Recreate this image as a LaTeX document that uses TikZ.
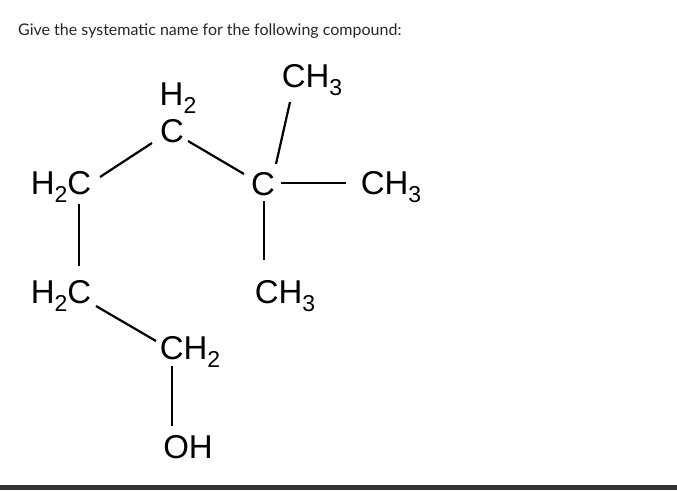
\documentclass[tikz,border=0pt]{standalone}
\usepackage{fontspec}
\setmainfont{Liberation Sans}
\newfontfamily\titlefont{Lato}
\newcommand{\chsub}[1]{\raisebox{-0.25em}{\fontsize{23}{23}\selectfont #1}}
\begin{document}
\begin{tikzpicture}[x=1pt,y=-1pt,
  lab/.style={inner sep=0pt,font=\fontsize{33}{33}\selectfont},
  bond/.style={line width=2.2pt,black}]
\useasboundingbox (0,0) rectangle (677,490);
\node[anchor=west,inner sep=0pt,font=\titlefont\fontsize{16}{16}\selectfont,text=black!85] (title) at (18,31) {Give the systematic name for the following compound:};
\node[lab] (h2) at (178,98) {H\chsub{2}};
\node[lab] (c1) at (172,131) {C};
\node[lab] (ch3t) at (312,80) {CH\chsub{3}};
\node[lab] (h2ca) at (61,187) {H\chsub{2}C};
\node[lab] (cq) at (263,184) {C};
\node[lab] (ch3r) at (391,187) {CH\chsub{3}};
\node[lab] (h2cb) at (61,296) {H\chsub{2}C};
\node[lab] (ch3b) at (285,296) {CH\chsub{3}};
\node[lab] (ch2) at (190,352) {CH\chsub{2}};
\node[lab] (oh) at (188,447) {OH};
\coordinate (a1) at (100,177); \coordinate (a2) at (152,143);
\coordinate (b1) at (188,141); \coordinate (b2) at (244,174);
\coordinate (c1a) at (276,164); \coordinate (c2a) at (290,102);
\coordinate (d1) at (281,183); \coordinate (d2) at (346,183);
\coordinate (e1) at (264,201); \coordinate (e2) at (264,260);
\coordinate (f1) at (79,204); \coordinate (f2) at (79,266);
\coordinate (g1) at (96,306); \coordinate (g2) at (156,341);
\coordinate (h1) at (172,366); \coordinate (h2e) at (172,426);
\draw[bond] (a1)--(a2); \draw[bond] (b1)--(b2);
\draw[bond] (c1a)--(c2a); \draw[bond] (d1)--(d2);
\draw[bond] (e1)--(e2); \draw[bond] (f1)--(f2);
\draw[bond] (g1)--(g2); \draw[bond] (h1)--(h2e);
\fill[black!80] (0,485) rectangle (677,490);
\end{tikzpicture}
\end{document}
